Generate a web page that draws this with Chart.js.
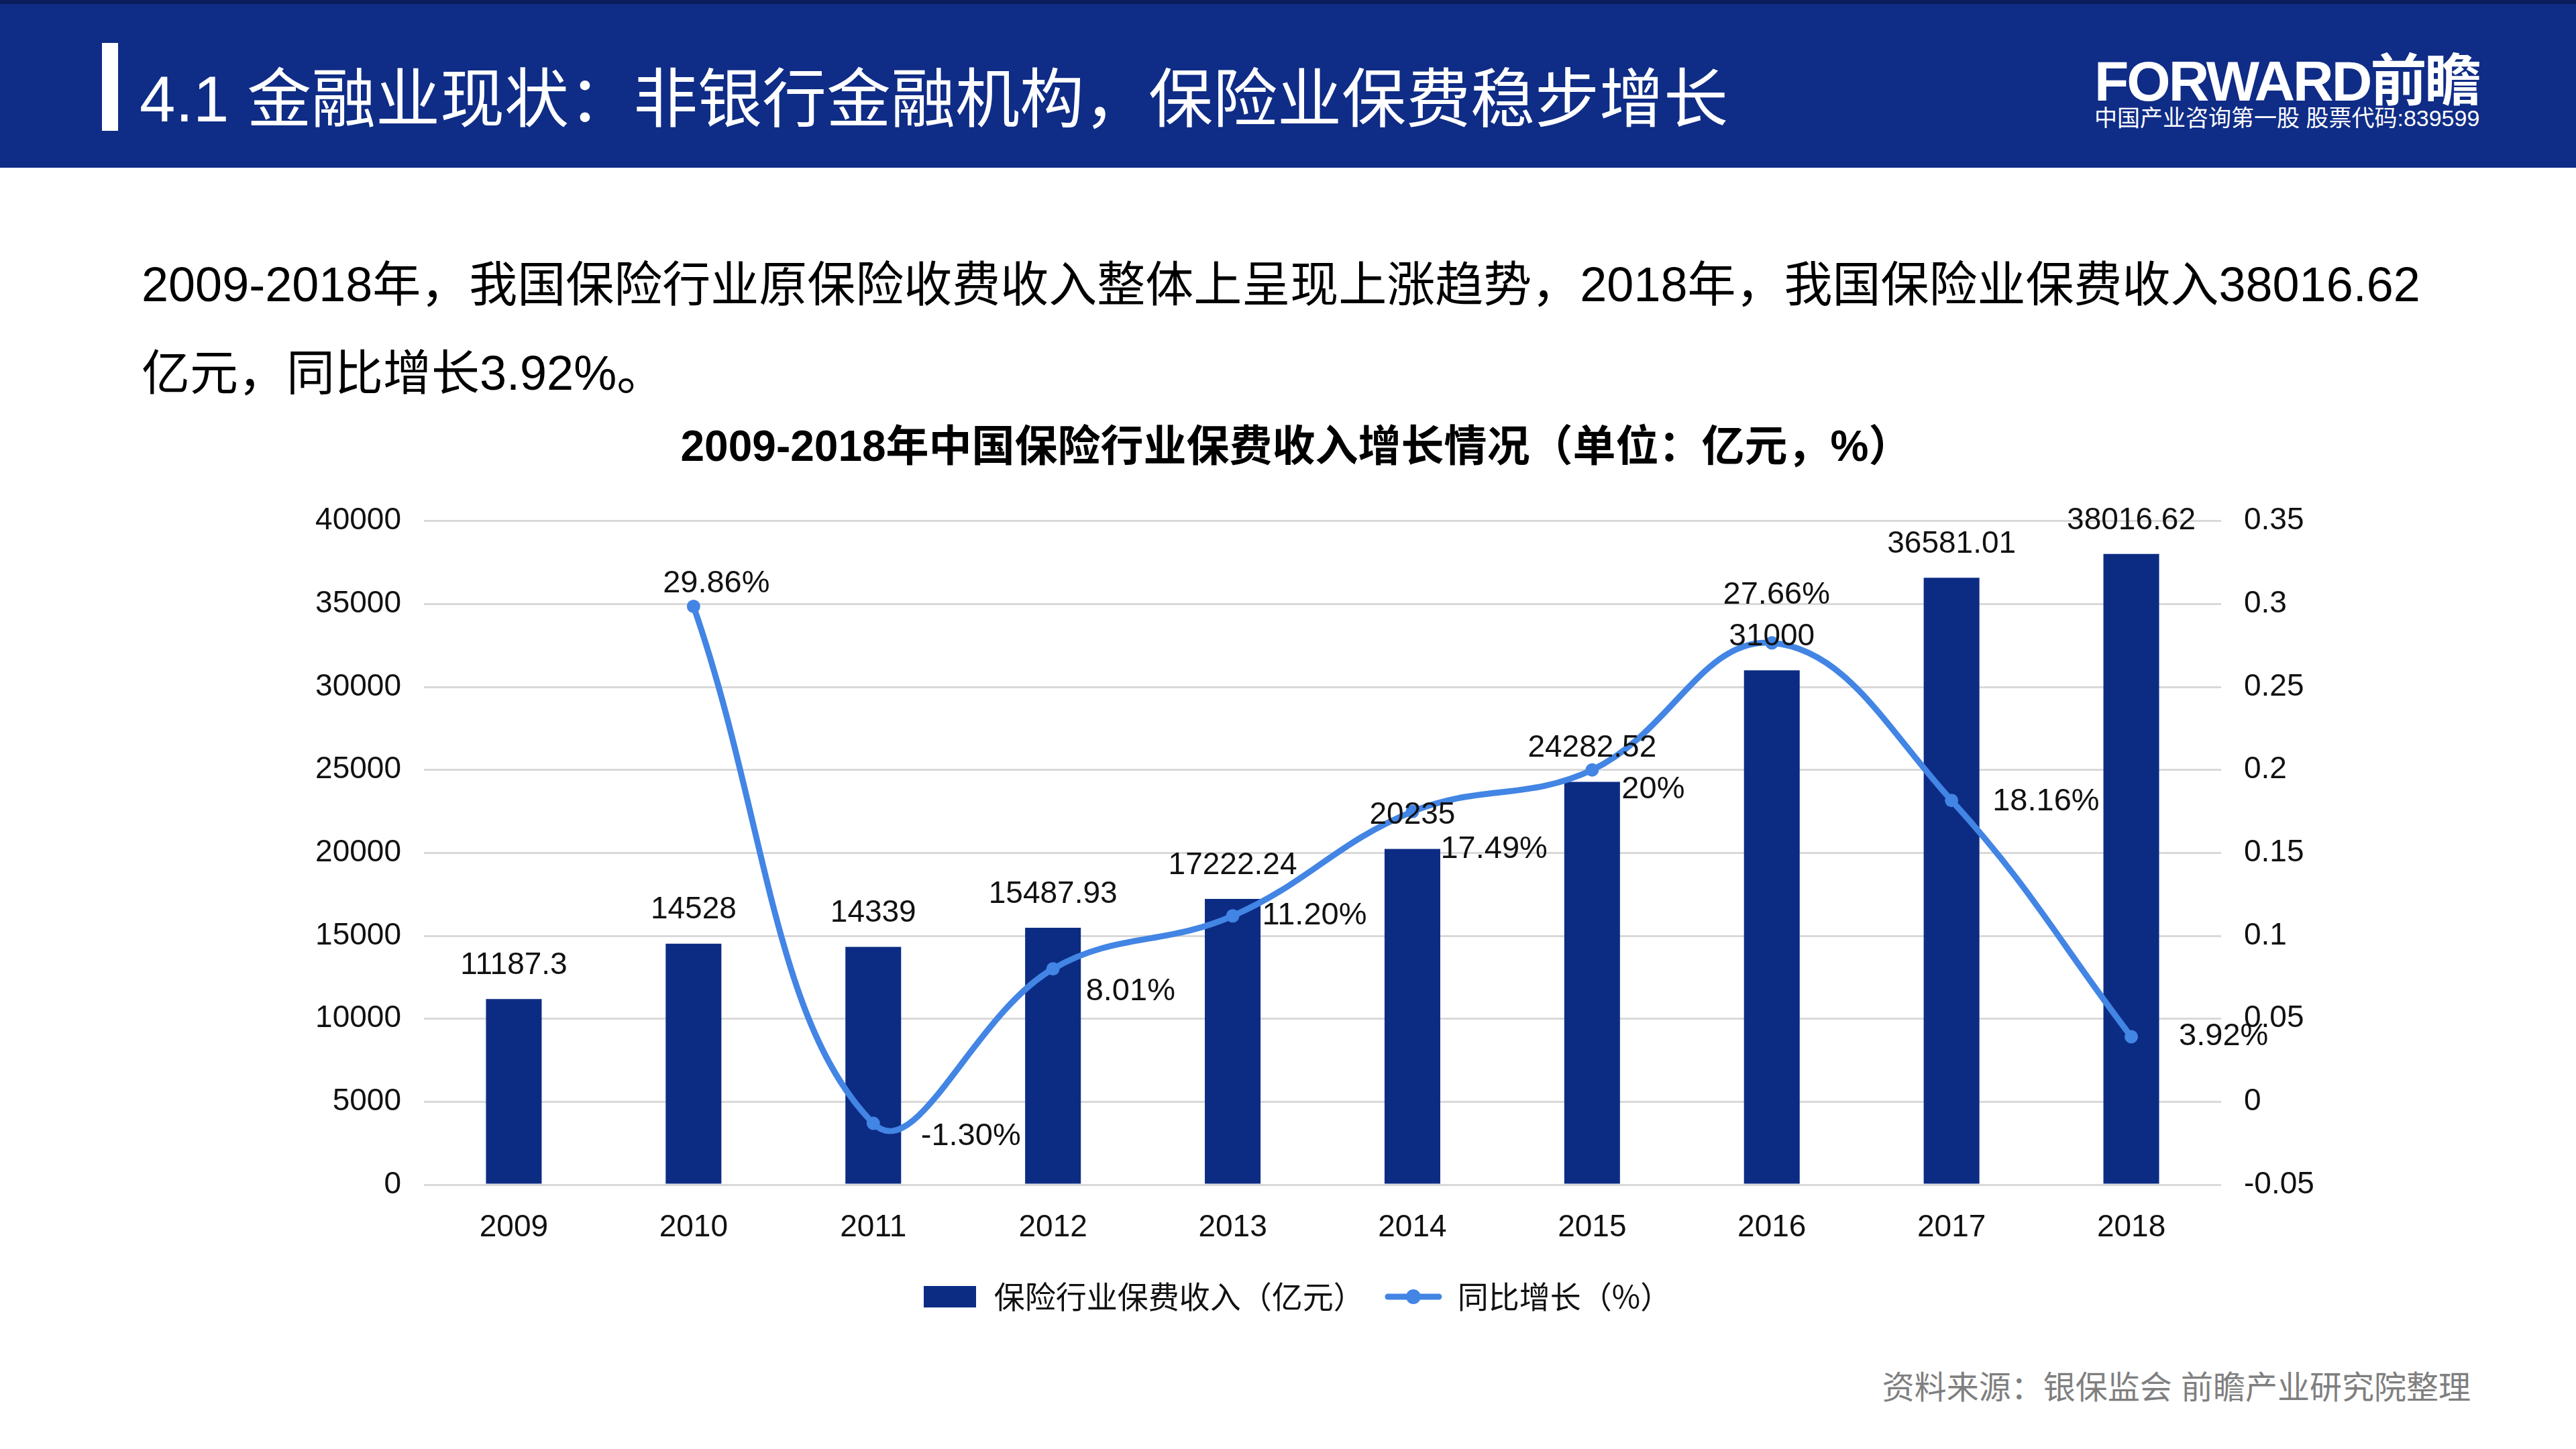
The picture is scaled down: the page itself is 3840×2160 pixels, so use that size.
<!DOCTYPE html>
<html>
<head>
<meta charset="utf-8">
<script src="https://cdn.jsdelivr.net/npm/chart.js@4.4.1/dist/chart.umd.min.js"></script>
<style>
  html, body { margin: 0; padding: 0; background: #fff; }
  body { width: 3840px; height: 2160px; position: relative; overflow: hidden;
         font-family: 'Liberation Sans', Arial, 'Noto Sans CJK SC', sans-serif; }
  .header { position: absolute; left: 0; top: 0; width: 3840px; height: 250px; background: #0f2c86;
            border-top: 6px solid #0a1d5c; box-sizing: border-box; }
  .bar-mark { position: absolute; left: 152px; top: 64px; width: 24px; height: 131px; background: #fff; }
  .title { position: absolute; left: 208px; top: 88px; color: #fff; font-size: 96px; line-height: 120px; white-space: nowrap; }
  .logo { position: absolute; left: 3122px; top: 76px; color: #fff; font-weight: bold; font-size: 84px;
          line-height: 90px; letter-spacing: -3px; white-space: nowrap; }
  .logo-sub { position: absolute; left: 3122px; top: 156px; color: #fff; font-size: 34px; line-height: 40px; white-space: nowrap; }
  .text { position: absolute; left: 211px; color: #000; font-size: 72px; white-space: nowrap; line-height: 90px; }
  .source { position: absolute; right: 157px; top: 2040px; color: #7f7f7f; font-size: 48px; line-height: 58px; white-space: nowrap; }
  #wrap { position: absolute; left: 380px; top: 625px; width: 3180px; height: 1341px; }
</style>
</head>
<body>
<div class="header"></div>
<div class="bar-mark"></div>
<div class="title">4.1 金融业现状：非银行金融机构，保险业保费稳步增长</div>
<div class="logo">FORWARD前瞻</div>
<div class="logo-sub">中国产业咨询第一股 股票代码:839599</div>
<div class="text" style="top:379px">2009-2018年，我国保险行业原保险收费收入整体上呈现上涨趋势，2018年，我国保险业保费收入38016.62</div>
<div class="text" style="top:511px">亿元，同比增长3.92%。</div>
<div class="source">资料来源：银保监会 前瞻产业研究院整理</div>
<div id="wrap"><canvas id="myChart"></canvas></div>

<script>
const years = ["2009", "2010", "2011", "2012", "2013", "2014", "2015", "2016", "2017", "2018"];
const premiumIncome = [11187.3, 14528, 14339, 15487.93, 17222.24, 20235, 24282.52, 31000, 36581.01, 38016.62];
const growthRate = [null, 0.2986, -0.013, 0.0801, 0.112, 0.1749, 0.20, 0.2766, 0.1816, 0.0392];
const growthLabels = ["", "29.86%", "-1.30%", "8.01%", "11.20%", "17.49%", "20%", "27.66%", "18.16%", "3.92%"];
const barName = "保险行业保费收入（亿元）";
const lineName = "同比增长（%）";

// where each growth label sits relative to its point: [align, dx, dy]
const growthLabelPlace = [null, ["center", 34, -34], ["left", 71, 20], ["left", 49, 34], ["left", 44, 0],
  ["left", 42, 56], ["left", 44, 29], ["center", 7, -71], ["left", 61, 2], ["left", 71, 0]];

const navy = "#0c2c84";
const blue = "#4285e4";

// legend pictures
const rectImg = document.createElement("canvas");
rectImg.width = 78; rectImg.height = 32;
let c = rectImg.getContext("2d");
c.fillStyle = navy; c.fillRect(0, 0, 78, 32);

const lineImg = document.createElement("canvas");
lineImg.width = 86; lineImg.height = 24;
c = lineImg.getContext("2d");
c.strokeStyle = blue; c.lineWidth = 9; c.lineCap = "round";
c.beginPath(); c.moveTo(5, 12); c.lineTo(81, 12); c.stroke();
c.fillStyle = blue; c.beginPath(); c.arc(43, 12, 11, 0, Math.PI * 2); c.fill();
const legendPics = [rectImg, lineImg];

const valueLabels = {
  id: "valueLabels",
  afterDatasetsDraw(chart) {
    const ctx = chart.ctx;
    ctx.save();
    ctx.fillStyle = "#111";
    ctx.font = "46px 'Liberation Sans', Arial, sans-serif";
    ctx.textBaseline = "middle";
    // bar values
    ctx.textAlign = "center";
    chart.getDatasetMeta(0).data.forEach((bar, i) => {
      ctx.fillText(String(premiumIncome[i]), bar.x, bar.y - 50);
    });
    // growth values
    ctx.font = "47px 'Liberation Sans', Arial, sans-serif";
    chart.getDatasetMeta(1).data.forEach((pt, i) => {
      const p = growthLabelPlace[i];
      if (!p || growthRate[i] === null) return;
      ctx.textAlign = p[0];
      ctx.fillText(growthLabels[i], pt.x + p[1], pt.y + p[2]);
    });
    ctx.restore();
  }
};

Chart.defaults.font.family = "'Liberation Sans', Arial, 'Noto Sans CJK SC', sans-serif";
Chart.defaults.color = "#111";

new Chart("myChart", {
  data: {
    labels: years,
    datasets: [
      {
        type: "bar",
        label: barName,
        data: premiumIncome,
        backgroundColor: navy,
        barPercentage: 0.62,
        categoryPercentage: 0.5,
        yAxisID: "y",
        order: 2
      },
      {
        type: "line",
        label: lineName,
        data: growthRate,
        borderColor: blue,
        backgroundColor: blue,
        borderWidth: 9,
        tension: 0.4,
        pointRadius: 10,
        pointBorderWidth: 0,
        pointBackgroundColor: blue,
        yAxisID: "y1",
        order: 1
      }
    ]
  },
  options: {
    responsive: true,
    maintainAspectRatio: false,
    animation: false,
    layout: { padding: { left: 0, right: 76, top: 0, bottom: 0 } },
    plugins: {
      title: {
        display: true,
        text: "2009-2018年中国保险行业保费收入增长情况（单位：亿元，%）",
        color: "#000",
        font: { size: 64, weight: "bold", family: "'Liberation Sans', Arial, 'Noto Sans CJK SC', sans-serif" },
        padding: { top: 6, bottom: 69 }
      },
      legend: {
        position: "bottom",
        labels: {
          usePointStyle: true,
          pointStyleWidth: 86,
          padding: 30,
          color: "#111",
          font: { size: 46, family: "'Noto Sans CJK SC', sans-serif" },
          generateLabels(chart) {
            const items = Chart.defaults.plugins.legend.labels.generateLabels(chart);
            items.sort((a, b) => a.datasetIndex - b.datasetIndex);
            items.forEach(it => { it.pointStyle = legendPics[it.datasetIndex]; });
            return items;
          }
        }
      },
      tooltip: { enabled: false }
    },
    scales: {
      x: {
        grid: { display: false },
        border: { display: false },
        ticks: { font: { size: 46 }, padding: 29 },
        afterFit(scale) { scale.height = 114; }
      },
      y: {
        position: "left",
        min: 0, max: 40000,
        ticks: { stepSize: 5000, font: { size: 46 }, padding: 34, callback: v => String(v) },
        grid: { color: "#d9d9d9", lineWidth: 3, drawTicks: false },
        border: { display: false },
        afterFit(scale) { scale.width = 252; }
      },
      y1: {
        position: "right",
        min: -0.05, max: 0.35,
        ticks: {
          stepSize: 0.05, font: { size: 46 }, padding: 34,
          callback: v => String(Number(v.toFixed(2)))
        },
        grid: { display: false, drawTicks: false },
        border: { display: false },
        afterFit(scale) { scale.width = 173; }
      }
    }
  },
  plugins: [valueLabels]
});
</script>
</body>
</html>
